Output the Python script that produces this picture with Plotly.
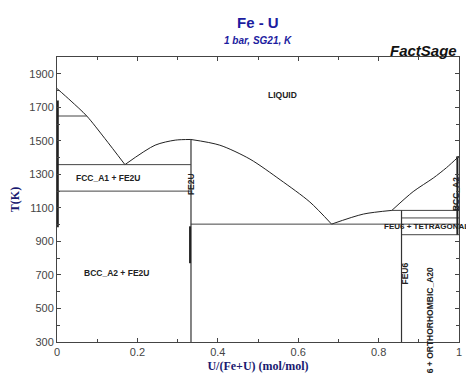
import plotly.graph_objects as go

# ---- data ----
fe_liq_x = [0.0, 0.035, 0.074, 0.119, 0.169]
fe_liq_T = [1812, 1737, 1648, 1514, 1358]

fe2u_left_x = [0.169, 0.244, 0.294, 0.333]
fe2u_left_T = [1358, 1474, 1504, 1508]

fe2u_right_x = [0.333, 0.405, 0.48, 0.555, 0.629, 0.683]
fe2u_right_T = [1508, 1474, 1391, 1268, 1135, 1003]

feu6_liq_x = [0.683, 0.762, 0.833]
feu6_liq_T = [1003, 1063, 1085]

u_liq_x = [0.833, 0.886, 0.936, 0.969, 1.0]
u_liq_T = [1085, 1197, 1278, 1340, 1408]

# invariant (horizontal) lines
inv_T = [1648, 1358, 1200, 1003, 1085, 1040, 940]
inv_x0 = [0.0, 0.0, 0.0, 0.333, 0.833, 0.857, 0.857]
inv_x1 = [0.074, 0.333, 0.333, 1.0, 1.0, 1.0, 1.0]

# compound (vertical) lines
comp_x = [0.3333, 0.857]
comp_T0 = [300, 300]
comp_T1 = [1508, 1085]

# narrow solvus lines near pure phases
solv_x = [0.002, 0.331, 0.996]
solv_T0 = [985, 770, 940]
solv_T1 = [1740, 990, 1408]

x_ticks = [0, 0.2, 0.4, 0.6, 0.8, 1]
x_tick_text = ["0", "0.2", "0.4", "0.6", "0.8", "1"]
y_ticks = [300, 500, 700, 900, 1100, 1300, 1500, 1700, 1900]

fig = go.Figure()

line_col = "#222222"
for xs, ts in [(fe_liq_x, fe_liq_T), (fe2u_left_x, fe2u_left_T),
               (fe2u_right_x, fe2u_right_T), (feu6_liq_x, feu6_liq_T),
               (u_liq_x, u_liq_T)]:
    fig.add_trace(go.Scatter(x=xs, y=ts, mode="lines",
                             line=dict(color=line_col, width=1, shape="spline", smoothing=0.8),
                             hoverinfo="skip", showlegend=False))

for t, a, b in zip(inv_T, inv_x0, inv_x1):
    fig.add_trace(go.Scatter(x=[a, b], y=[t, t], mode="lines",
                             line=dict(color="#444444", width=1),
                             hoverinfo="skip", showlegend=False))

for xv, a, b in zip(comp_x, comp_T0, comp_T1):
    fig.add_trace(go.Scatter(x=[xv, xv], y=[a, b], mode="lines",
                             line=dict(color="#333333", width=1.2),
                             hoverinfo="skip", showlegend=False))

for xv, a, b in zip(solv_x, solv_T0, solv_T1):
    fig.add_trace(go.Scatter(x=[xv, xv], y=[a, b], mode="lines",
                             line=dict(color="#222222", width=2),
                             hoverinfo="skip", showlegend=False))

def lab(text, x, y, angle=0, xanchor="center", yanchor="middle", size=8.5):
    fig.add_annotation(text="<b>%s</b>" % text, x=x, y=y, xref="x", yref="y",
                       showarrow=False, textangle=angle,
                       font=dict(family="Liberation Sans, Arial", size=size, color="#222222"),
                       xanchor=xanchor, yanchor=yanchor)

lab("LIQUID", 0.56, 1771)
lab("FCC_A1 + FE2U", 0.127, 1278)
lab("BCC_A2 + FE2U", 0.147, 714)
lab("FE2U", 0.333, 1241, angle=-90)
lab("FEU6", 0.866, 709, angle=-90)
lab("BCC_A2", 0.994, 1180, angle=-90)
lab("FEU6 + TETRAGONAL_", 0.808, 991, xanchor="left", size=8)
lab("FEU6 + ORTHORHOMBIC_A20", 0.928, 755, angle=-90, yanchor="top")

blue = "#1c1ca0"
fig.add_annotation(text="<b>Fe - U</b>", xref="paper", yref="paper",
                   x=0.5, y=1, yshift=35, showarrow=False,
                   font=dict(family="Liberation Sans, Arial", size=15, color=blue),
                   xanchor="center", yanchor="middle")
fig.add_annotation(text="<b><i>1 bar, SG21, K</i></b>", xref="paper", yref="paper",
                   x=0.5, y=1, yshift=17, showarrow=False,
                   font=dict(family="Liberation Sans, Arial", size=10, color=blue),
                   xanchor="center", yanchor="middle")
fig.add_annotation(text="<b><i>FactSage</i></b>", xref="paper", yref="paper",
                   x=1, y=1, yshift=7, showarrow=False,
                   font=dict(family="Liberation Sans, Arial", size=15, color="#111111"),
                   xanchor="right", yanchor="middle")

axis_common = dict(showgrid=False, zeroline=False, showline=True, linecolor="#444444",
                   linewidth=1, mirror="allticks", ticks="inside", ticklen=4,
                   tickcolor="#444444", automargin=False,
                   tickfont=dict(family="Liberation Sans, Arial", size=11, color="#444444"))

fig.update_xaxes(range=[0, 1], tickvals=x_ticks, ticktext=x_tick_text,
                 minor=dict(dtick=0.1, ticks="inside", ticklen=3, tickcolor="#444444"),
                 title=dict(text="<b>U/(Fe+U) (mol/mol)</b>",
                            font=dict(family="Liberation Serif, Times New Roman", size=12, color="#1a1a70")),
                 **axis_common)
fig.update_yaxes(range=[300, 2000], tickvals=y_ticks,
                 minor=dict(dtick=100, tick0=300, ticks="inside", ticklen=3, tickcolor="#444444"),
                 title=dict(text="<b>T(K)</b>",
                            font=dict(family="Liberation Serif, Times New Roman", size=12, color="#1a1a70")),
                 **axis_common)

# the page body adds an 8px offset, so the figure is 8px smaller on each side
fig.update_layout(width=466, height=365, margin=dict(l=49, r=15, t=49, b=31),
                  plot_bgcolor="white", paper_bgcolor="white", showlegend=False)

fig.write_html("out.html")
